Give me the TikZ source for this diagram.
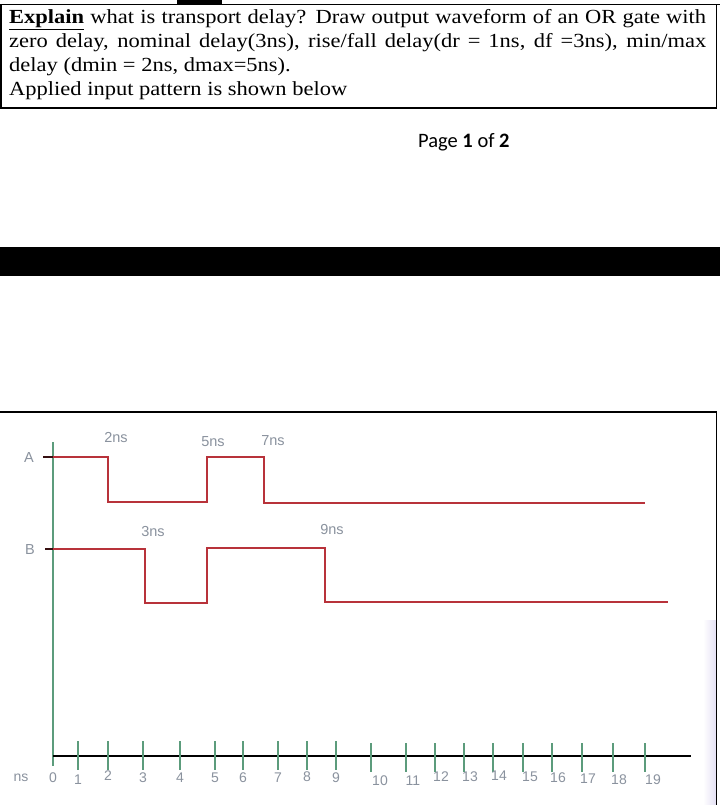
\documentclass[tikz,border=0pt]{standalone}
\usepackage{fontspec}
\setmainfont{Liberation Serif}
\newfontfamily\qfont[FakeStretch=1.125]{Liberation Serif}
\newfontfamily\arialf{Liberation Sans}
\newfontfamily\calib{Carlito}
\definecolor{wred}{HTML}{B8323A}
\definecolor{wgreen}{HTML}{5C9C7C}
\definecolor{lgray}{HTML}{8A929E}
\definecolor{lav}{HTML}{E4E0F4}
\tikzset{
  qline/.style={inner sep=0pt, anchor=base west, font=\qfont\fontsize{20}{24}\selectfont},
  frame/.style={line width=1.2pt, black},
  wave/.style={line width=2.4pt, wred, line join=miter},
  stub/.style={line width=2pt, black!70!wred},
  tickmk/.style={line width=1.4pt, wgreen},
  lbl/.style={inner sep=0pt, text=lgray, font=\arialf\fontsize{14.5}{16}\selectfont},
  tlbl/.style={inner sep=0pt, text=lgray, font=\arialf\fontsize{14}{16}\selectfont},
}
\begin{document}
\begin{tikzpicture}[x=1pt,y=-1pt]
\useasboundingbox (0,0) rectangle (720,805);
\fill[white] (0,0) rectangle (720,805);
% top cut-off
\fill[black] (177,0) rectangle (222,4);
\draw[frame] (0,4.5) -- (720,4.5);
\draw[frame] (1,4.5) -- (1,108);
\draw[frame] (716.5,4.5) -- (716.5,108);
\draw[frame] (0,108) -- (716.5,108);
\node[qline] (q1) at (9,24) {\makebox[697pt][s]{\underline{\textbf{Explain}} what is transport delay? Draw output waveform of an OR gate with}};
\node[qline] (q2) at (9,48) {\makebox[697pt][s]{zero delay, nominal delay(3ns), rise/fall delay(dr = 1ns, df =3ns), min/max}};
\node[qline] (q3) at (9,72) {delay (dmin = 2ns, dmax=5ns).};
\node[qline] (q4) at (9,96) {Applied input pattern is shown below};
% page
\node[inner sep=0pt, anchor=base west, font=\calib\fontsize{20.5}{22}\selectfont] (pg) at (418,148) {Page \textbf{1} of \textbf{2}};
% black band
\fill[black] (0,247) rectangle (720,276);
% lower frame
\shade[left color=white, right color=lav] (703,620) rectangle (716,805);
\draw[frame] (0,412) -- (717,412);
\draw[frame] (716.5,412) -- (716.5,805);
% axis
\draw[line width=1.6pt, wgreen] (53,442) coordinate (ax0) -- (53,766) coordinate (ax1);
\draw[line width=2pt, black] (53,756) coordinate (t0) -- (691,756) coordinate (t1);
\foreach \x/\lab/\ly in {78/1/780,108/2/776,143/3/778,180/4/778,215/5/778,243/6/778,278/7/778,307/8/777,336/9/778}{
  \draw[tickmk] (\x,741) -- (\x,770);
  \node[tlbl] at (\x,\ly) {\lab};
}
\foreach \x/\lab/\lx/\ly in {371/10/380/781,406/11/413/781,435/12/441/777,464/13/470/777,493/14/499/776,523/15/530/777,552/16/558/778,582/17/588/779,613/18/619/780,645/19/653/780}{
  \draw[tickmk] (\x,743) -- (\x,772);
  \node[tlbl] at (\lx,\ly) {\lab};
}
\node[tlbl] (z0) at (53,778) {0};
\node[tlbl] (ns) at (21,778) {ns};
% signal A
\node[lbl] (A) at (29,458) {A};
\draw[stub] (43,457) -- (55,457);
\draw[wave] (53,457) coordinate (a0) -- (108,457) -- (108,502) -- (207,502) -- (207,457) -- (264,457) -- (264,503) -- (645,503) coordinate (a1);
\node[lbl] (l2) at (116,438) {2ns};
\node[lbl] (l5) at (213,442) {5ns};
\node[lbl] (l7) at (273,441) {7ns};
% signal B
\node[lbl] (B) at (30,550) {B};
\draw[stub] (45,549) -- (55,549);
\draw[wave] (53,549) coordinate (b0) -- (145,549) -- (145,603) -- (207,603) -- (207,548) -- (325,548) -- (325,602) -- (668,602) coordinate (b1);
\node[lbl] (l3) at (153,532) {3ns};
\node[lbl] (l9) at (332,530) {9ns};
\end{tikzpicture}
\end{document}
